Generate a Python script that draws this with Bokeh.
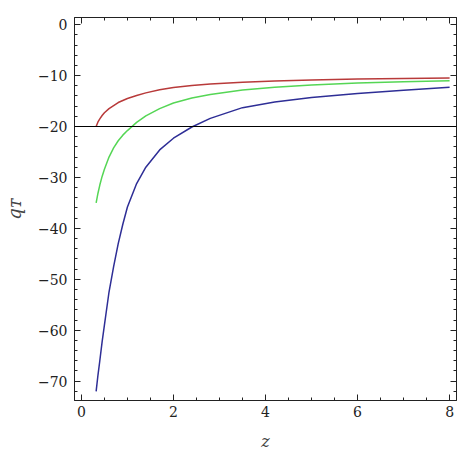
import math
from bokeh.plotting import figure
from bokeh.models import (Range1d, LinearAxis, SingleIntervalTicker, CustomJSTickFormatter, Span)
from bokeh.embed import file_html
from bokeh.resources import INLINE

# ---- data ----
z = [0.32, 0.36, 0.4, 0.45, 0.5, 0.6, 0.7, 0.8, 0.9, 1.0, 1.2, 1.4, 1.7, 2.0, 2.4, 2.8, 3.5, 4.2, 5.0, 6.0, 7.0, 8.0]
q_red = [-20.0, -19.1, -18.5, -17.85, -17.3, -16.5, -15.9, -15.3, -14.9, -14.5, -13.9, -13.4, -12.8, -12.35,
         -11.95, -11.65, -11.3, -11.05, -10.85, -10.68, -10.56, -10.48]
q_green = [-35.0, -33.1, -31.5, -29.8, -28.4, -26.0, -24.2, -22.8, -21.7, -20.8, -19.2, -17.9, -16.5, -15.4,
           -14.4, -13.7, -12.85, -12.3, -11.85, -11.45, -11.2, -11.0]
q_blue = [-72.0, -68.8, -66.0, -62.3, -59.0, -52.5, -47.5, -43.0, -39.2, -35.8, -31.2, -28.0, -24.6, -22.3,
          -20.1, -18.4, -16.3, -15.2, -14.3, -13.5, -12.9, -12.3]
q_ref = -20
x_label = "z"
y_label = "q\u1D1B"   # q with a small T (subscript T)

FONT = "DejaVu Serif"

p = figure(width=466, height=453, output_backend="svg", toolbar_location=None,
           x_range=Range1d(-0.15, 8.15), y_range=Range1d(-73.8, 1.4),
           x_axis_location=None, y_axis_location=None,
           min_border_left=72, min_border_right=10, min_border_top=17, min_border_bottom=51)
p.grid.visible = False
p.outline_line_color = "#222222"
p.outline_line_width = 1
p.background_fill_color = "white"
p.border_fill_color = "white"

minus_fmt = CustomJSTickFormatter(code="return tick < 0 ? '\\u2212' + Math.abs(tick) : String(tick);")
blank_fmt = CustomJSTickFormatter(code="return '';")

def style(ax, labels=True):
    ax.axis_line_color = "#222222"
    ax.major_tick_in = 6
    ax.major_tick_out = 0
    ax.minor_tick_in = 3
    ax.minor_tick_out = 0
    ax.major_tick_line_color = "#222222"
    ax.minor_tick_line_color = "#222222"
    ax.major_label_text_font = FONT
    ax.major_label_text_color = "#222222"
    if labels:
        ax.major_label_text_font_size = "14px"
    else:
        ax.major_label_text_font_size = "1px"
        ax.major_label_standoff = 0

xt = lambda: SingleIntervalTicker(interval=2, num_minor_ticks=4)
yt = lambda: SingleIntervalTicker(interval=10, num_minor_ticks=5)

bx = LinearAxis(ticker=xt(), formatter=minus_fmt)
style(bx)
bx.major_label_standoff = 5
bx.axis_label = x_label
bx.axis_label_text_font = FONT
bx.axis_label_text_font_style = "italic"
bx.axis_label_text_font_size = "16px"
bx.axis_label_standoff = 12
p.add_layout(bx, "below")

ly = LinearAxis(ticker=yt(), formatter=minus_fmt)
style(ly)
ly.major_label_standoff = 7
ly.axis_label = y_label
ly.axis_label_text_font = FONT
ly.axis_label_text_font_style = "italic"
ly.axis_label_text_font_size = "18px"
ly.axis_label_standoff = 10
p.add_layout(ly, "left")

tx = LinearAxis(ticker=xt(), formatter=blank_fmt)
style(tx, labels=False)
p.add_layout(tx, "above")

ry = LinearAxis(ticker=yt(), formatter=blank_fmt)
style(ry, labels=False)
p.add_layout(ry, "right")

p.add_layout(Span(location=q_ref, dimension="width", line_color="black", line_width=1.2))

p.line(z, q_red, line_color="#B83A3A", line_width=1.5)
p.line(z, q_green, line_color="#55D655", line_width=1.5)
p.line(z, q_blue, line_color="#2E2E96", line_width=1.5)

open("out.html", "w").write(file_html(p, INLINE))
